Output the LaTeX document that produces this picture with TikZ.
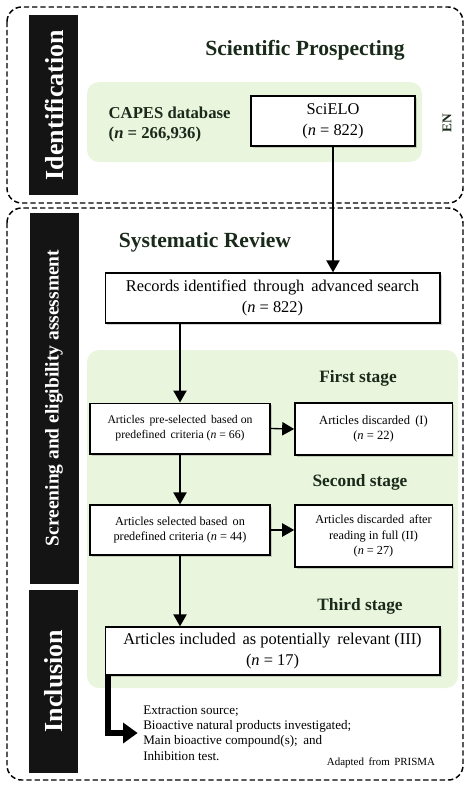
\documentclass[tikz,border=0pt]{standalone}
\usepackage{fontspec}
\setmainfont{Liberation Serif}
\usetikzlibrary{arrows.meta,shadows}
\definecolor{verdeclaro}{RGB}{234,245,221}
\definecolor{verdeoscuro}{RGB}{26,42,26}
\begin{document}
\begin{tikzpicture}[x=0.75pt,y=-0.75pt,
    marco/.style={line width=1.1pt,dash pattern=on 4pt off 2.2pt,rounded corners=11pt},
    zona/.style={fill=verdeclaro,rounded corners=9pt},
    barra/.style={fill=black!92},
    etiqueta/.style={rotate=90,text=white,font=\bfseries\fontsize{19.5}{22}\selectfont},
    caja/.style={draw,line width=1pt,fill=white,align=center,inner sep=1pt,
      drop shadow={shadow xshift=1.6pt,shadow yshift=-1.6pt,opacity=0.35}},
    cajagrande/.style={caja,font=\fontsize{12.3}{15.5}\selectfont},
    cajachica/.style={caja,font=\fontsize{8.8}{11.5}\selectfont},
    titulo/.style={text=verdeoscuro,font=\bfseries\fontsize{16.2}{18}\selectfont},
    etapa/.style={text=verdeoscuro,font=\bfseries\fontsize{13}{15}\selectfont},
    flecha/.style={line width=1pt,-{Triangle[length=9pt,width=10pt]}},
    flechagruesa/.style={line width=4.6pt,-{Triangle[length=11pt,width=15pt]}}]
  \useasboundingbox (0,0) rectangle (474,786);
  % bloques punteados
  \draw[marco] (7,7) rectangle (463,203);
  \draw[marco] (7,208) rectangle (463,780);
  % barras negras
  \fill[barra] (29,15) rectangle (78,195);
  \fill[barra] (30,213) rectangle (79,584);
  \fill[barra] (29,590) rectangle (78,773);
  \node[etiqueta] (ident) at (54,105) {Identification};
  \node[etiqueta,font=\bfseries\fontsize{14.6}{16}\selectfont] (criba) at (54,398) {Screening and eligibility assessment};
  \node[etiqueta] (incl) at (54,681) {Inclusion};
  % zonas verdes
  \fill[zona] (87,82) rectangle (422,162);
  \fill[zona] (87,350) rectangle (458,688);
  % textos
  \node[titulo] (prosp) at (305,50) {Scientific Prospecting};
  \node[titulo,font=\bfseries\fontsize{12.5}{15}\selectfont,align=left,anchor=west] (capes) at (104,124) {CAPES database\\(\textit{n} = 266,936)};
  \node[titulo,font=\bfseries\fontsize{10}{12}\selectfont,rotate=90] (en) at (447,123) {EN};
  \node[titulo] (revision) at (205,242) {Systematic Review};
  \node[etapa] (etapa1) at (358,378) {First stage};
  \node[etapa] (etapa2) at (360,482) {Second stage};
  \node[etapa] (etapa3) at (360,606) {Third stage};
  % cajas
  \node[cajagrande,minimum width=123pt,minimum height=37.5pt] (scielo) at (333,121) {SciELO\\(\textit{n} = 822)};
  \node[cajagrande,minimum width=251pt,minimum height=37.5pt] (registros) at (272.5,298) {Records identified\, through\, advanced search\\(\textit{n} = 822)};
  \node[cajachica,minimum width=135pt,minimum height=38pt] (presel) at (180,428.5) {Articles\, pre-selected\, based on\\predefined\, criteria (\textit{n} = 66)};
  \node[cajachica,font=\fontsize{9.4}{11.5}\selectfont,minimum width=118pt,minimum height=39pt] (desc1) at (373.5,429) {Articles discarded\, (I)\\(\textit{n} = 22)};
  \node[cajachica,font=\fontsize{9.2}{11.5}\selectfont,minimum width=135pt,minimum height=37.5pt] (sel) at (180,530) {Articles selected based\, on\\predefined criteria (\textit{n} = 44)};
  \node[cajachica,font=\fontsize{9.2}{11.5}\selectfont,minimum width=118pt,minimum height=46.5pt] (desc2) at (373.5,536) {Articles discarded\, after\\reading in full (II)\\(\textit{n} = 27)};
  \node[cajagrande,minimum width=251pt,minimum height=36pt] (incluidos) at (272.5,651) {Articles included\, as potentially\, relevant (III)\\(\textit{n} = 17)};
  \node[align=left,anchor=west,inner sep=0pt,font=\fontsize{9.8}{11.5}\selectfont] (lista) at (143,733)
    {Extraction source;\\Bioactive natural products investigated;\\Main bioactive compound(s);\, and\\Inhibition test.};
  \node[font=\fontsize{8.2}{10}\selectfont] (prisma) at (381,763) {Adapted\, from\, PRISMA};
  % conectores
  \draw[flecha] (scielo.south) -- (scielo.south |- registros.north);
  \draw[flecha] (registros.south -| presel.north) -- (presel.north);
  \draw[flecha] (presel.east) -- (desc1.west);
  \draw[flecha] (presel.south) -- (sel.north);
  \draw[flecha] (sel.east) -- (sel.east -| desc2.west);
  \draw[flecha] (sel.south) -- (sel.south |- incluidos.north);
  \draw[flechagruesa] ([xshift=2.5pt]incluidos.south west) |- ([xshift=-4pt]lista.west);
\end{tikzpicture}
\end{document}
